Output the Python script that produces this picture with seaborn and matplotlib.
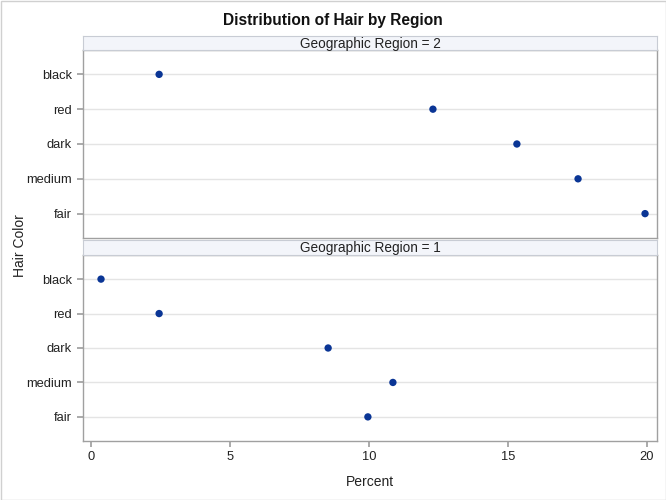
import matplotlib
matplotlib.use("Agg")
import matplotlib.pyplot as plt
import seaborn as sns
import pandas as pd

hair_colors = ["black", "red", "dark", "medium", "fair"]
region2_pct = [2.45, 12.3, 15.32, 17.52, 19.93]
region1_pct = [0.36, 2.45, 8.53, 10.86, 9.96]
x_ticks = [0, 5, 10, 15, 20]

df = pd.DataFrame({
    "Hair Color": hair_colors * 2,
    "Percent": region2_pct + region1_pct,
    "Region": ["2"] * 5 + ["1"] * 5,
})

sns.set_theme(style="white")
plt.rcParams["font.family"] = ["Liberation Sans", "DejaVu Sans"]

fig = plt.figure(figsize=(6.66, 5.0), dpi=100)
L, W = 83 / 666, (657 - 83) / 666
panels = [("2", 50, 238, 36), ("1", 255, 441, 240)]
frame_col = "#a0a0a0"
axes = []
for reg, top, bot, htop in panels:
    ax = fig.add_axes([L, 1 - bot / 500, W, (bot - top) / 500])
    hdr = fig.add_axes([L, 1 - top / 500, W, (top - htop) / 500])
    hdr.set_facecolor("#f3f5fa")
    hdr.set_xticks([]); hdr.set_yticks([])
    for s in hdr.spines.values():
        s.set_color("#c8ccd4"); s.set_linewidth(0.8)
    hdr.text(0.5, 0.45, f"Geographic Region = {reg}", ha="center", va="center",
             fontsize=9.8, color="#222222", transform=hdr.transAxes)
    sub = df[df["Region"] == reg]
    sns.scatterplot(data=sub, x="Percent", y="Hair Color", ax=ax, color="#0a3595",
                    s=28, edgecolor="none", zorder=3)
    ax.set_ylim(4.7, -0.7)
    ax.set_xlim(-0.288, 20.36)
    ax.yaxis.grid(True, color="#e4e4e4", linewidth=1)
    ax.set_axisbelow(True)
    for s in ax.spines.values():
        s.set_color(frame_col); s.set_linewidth(1)
    ax.tick_params(axis="y", length=4, pad=4, color=frame_col, labelsize=9.3,
                   labelcolor="#222222", left=True)
    ax.set_ylabel("")
    axes.append(ax)

axes[0].set_xticks(x_ticks)
axes[0].tick_params(axis="x", bottom=False, labelbottom=False)
axes[0].set_xlabel("")
axes[1].set_xticks(x_ticks)
axes[1].tick_params(axis="x", length=4, color=frame_col, labelsize=9.3, labelcolor="#222222", bottom=True)
axes[1].set_xlabel("Percent", fontsize=10, color="#222222", labelpad=8)

fig.text(0.5, 1 - 20 / 500, "Distribution of Hair by Region", ha="center", va="center",
         fontsize=11.2, fontweight="bold", color="#111111")
fig.text(20 / 666, 1 - 246 / 500, "Hair Color", rotation=90, ha="center", va="center",
         fontsize=10, color="#222222")

border = plt.Rectangle((0.5 / 666, 0.5 / 500), 665 / 666, 499 / 500, transform=fig.transFigure,
                       fill=False, edgecolor="#d0d0d0", linewidth=1)
fig.patches.append(border)

fig.savefig("out.png", dpi=100)
